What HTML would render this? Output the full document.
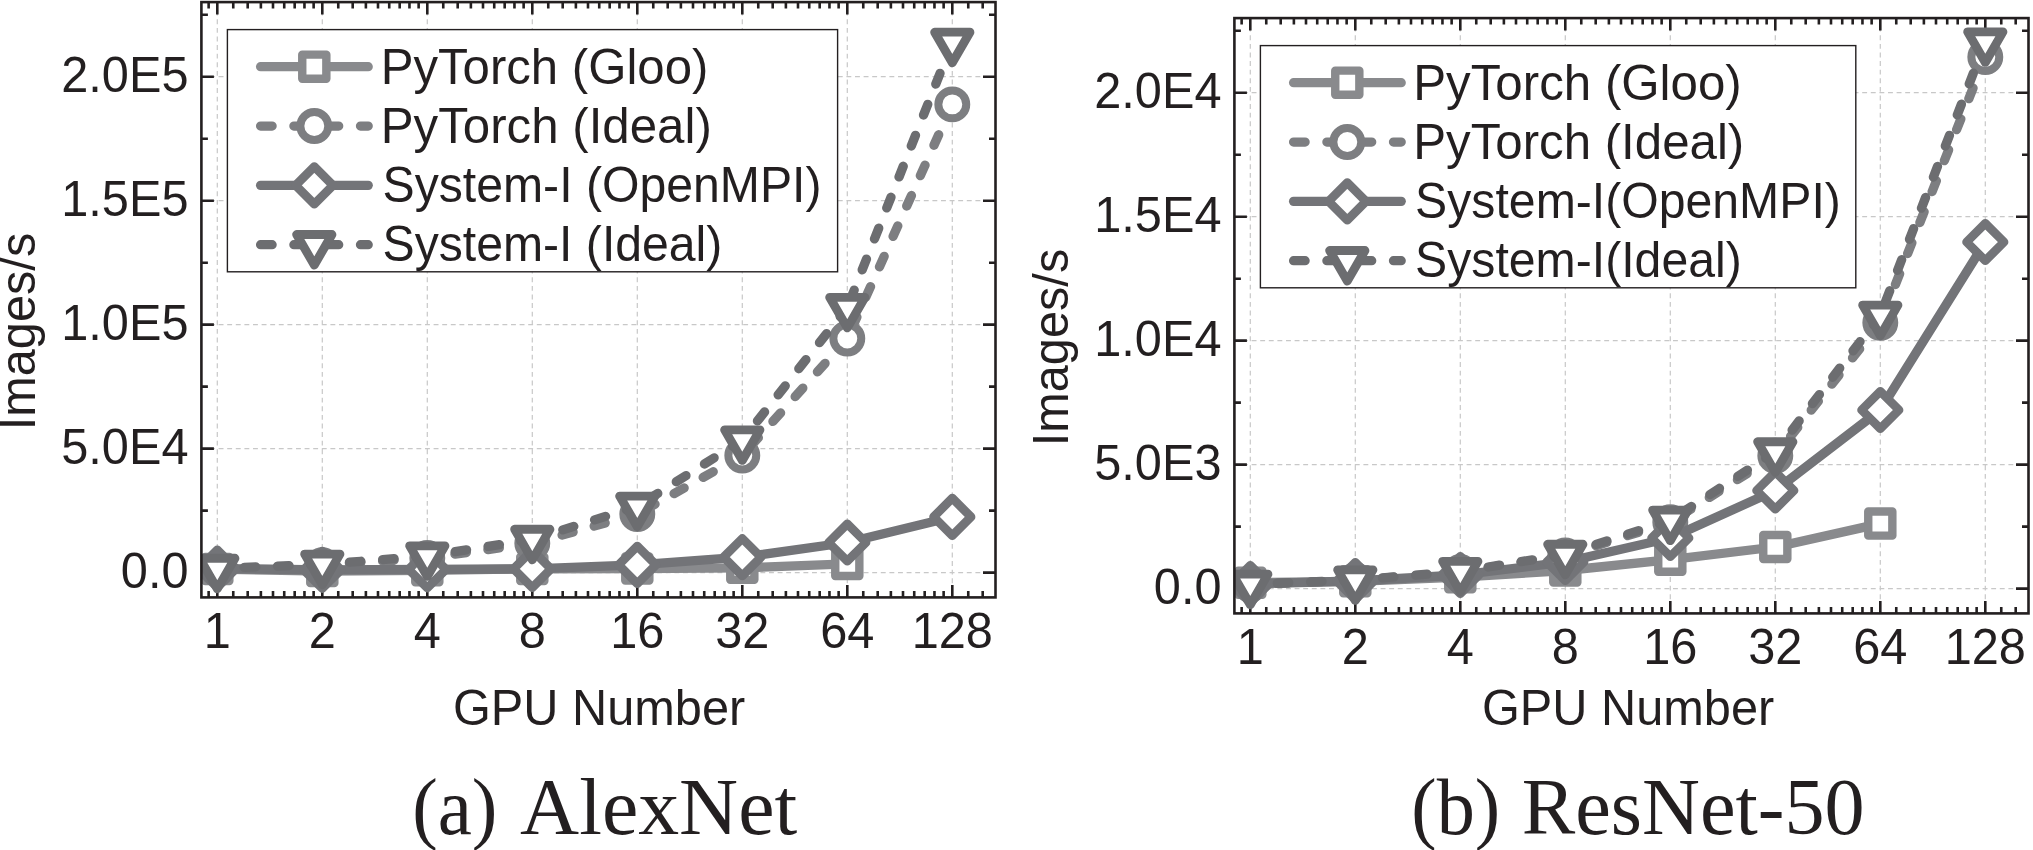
<!DOCTYPE html>
<html><head><meta charset="utf-8"><style>
html,body{margin:0;padding:0;background:#fff;width:2033px;height:850px;overflow:hidden}
svg{display:block}
.s{font-family:"Liberation Sans",sans-serif;font-size:48.7px;fill:#231f20}
.c{font-family:"Liberation Serif",serif;font-size:81px;fill:#231f20}
</style></head><body>
<svg width="2033" height="850" viewBox="0 0 2033 850">
<rect width="2033" height="850" fill="#fff"/>
<path d="M217.3 2.1V597.4M322.3 2.1V597.4M427.3 2.1V597.4M532.3 2.1V597.4M637.3 2.1V597.4M742.3 2.1V597.4M847.3 2.1V597.4M952.3 2.1V597.4M201.4 572.6H995.5M201.4 448.63H995.5M201.4 324.66H995.5M201.4 200.69H995.5M201.4 76.72H995.5" stroke="#c8c8c8" stroke-width="1.2" stroke-dasharray="4.9 3.7" fill="none"/>
<path d="M217.3 2.1v12.5M217.3 597.4v-12.5M322.3 2.1v12.5M322.3 597.4v-12.5M427.3 2.1v12.5M427.3 597.4v-12.5M532.3 2.1v12.5M532.3 597.4v-12.5M637.3 2.1v12.5M637.3 597.4v-12.5M742.3 2.1v12.5M742.3 597.4v-12.5M847.3 2.1v12.5M847.3 597.4v-12.5M952.3 2.1v12.5M952.3 597.4v-12.5M208.64 2.1v6.5M208.64 597.4v-6.5M233.26 2.1v6.5M233.26 597.4v-6.5M247.7 2.1v6.5M247.7 597.4v-6.5M260.88 2.1v6.5M260.88 597.4v-6.5M273 2.1v6.5M273 597.4v-6.5M284.23 2.1v6.5M284.23 597.4v-6.5M294.68 2.1v6.5M294.68 597.4v-6.5M304.46 2.1v6.5M304.46 597.4v-6.5M313.64 2.1v6.5M313.64 597.4v-6.5M338.26 2.1v6.5M338.26 597.4v-6.5M352.7 2.1v6.5M352.7 597.4v-6.5M365.88 2.1v6.5M365.88 597.4v-6.5M378 2.1v6.5M378 597.4v-6.5M389.23 2.1v6.5M389.23 597.4v-6.5M399.68 2.1v6.5M399.68 597.4v-6.5M409.46 2.1v6.5M409.46 597.4v-6.5M418.64 2.1v6.5M418.64 597.4v-6.5M443.26 2.1v6.5M443.26 597.4v-6.5M457.7 2.1v6.5M457.7 597.4v-6.5M470.88 2.1v6.5M470.88 597.4v-6.5M483 2.1v6.5M483 597.4v-6.5M494.23 2.1v6.5M494.23 597.4v-6.5M504.68 2.1v6.5M504.68 597.4v-6.5M514.46 2.1v6.5M514.46 597.4v-6.5M523.64 2.1v6.5M523.64 597.4v-6.5M548.26 2.1v6.5M548.26 597.4v-6.5M562.7 2.1v6.5M562.7 597.4v-6.5M575.88 2.1v6.5M575.88 597.4v-6.5M588 2.1v6.5M588 597.4v-6.5M599.23 2.1v6.5M599.23 597.4v-6.5M609.68 2.1v6.5M609.68 597.4v-6.5M619.46 2.1v6.5M619.46 597.4v-6.5M628.64 2.1v6.5M628.64 597.4v-6.5M653.26 2.1v6.5M653.26 597.4v-6.5M667.7 2.1v6.5M667.7 597.4v-6.5M680.88 2.1v6.5M680.88 597.4v-6.5M693 2.1v6.5M693 597.4v-6.5M704.23 2.1v6.5M704.23 597.4v-6.5M714.68 2.1v6.5M714.68 597.4v-6.5M724.46 2.1v6.5M724.46 597.4v-6.5M733.64 2.1v6.5M733.64 597.4v-6.5M758.26 2.1v6.5M758.26 597.4v-6.5M772.7 2.1v6.5M772.7 597.4v-6.5M785.88 2.1v6.5M785.88 597.4v-6.5M798 2.1v6.5M798 597.4v-6.5M809.23 2.1v6.5M809.23 597.4v-6.5M819.68 2.1v6.5M819.68 597.4v-6.5M829.46 2.1v6.5M829.46 597.4v-6.5M838.64 2.1v6.5M838.64 597.4v-6.5M863.26 2.1v6.5M863.26 597.4v-6.5M877.7 2.1v6.5M877.7 597.4v-6.5M890.88 2.1v6.5M890.88 597.4v-6.5M903 2.1v6.5M903 597.4v-6.5M914.23 2.1v6.5M914.23 597.4v-6.5M924.68 2.1v6.5M924.68 597.4v-6.5M934.46 2.1v6.5M934.46 597.4v-6.5M943.64 2.1v6.5M943.64 597.4v-6.5M968.26 2.1v6.5M968.26 597.4v-6.5M982.7 2.1v6.5M982.7 597.4v-6.5M201.4 572.6h12.5M995.5 572.6h-12.5M201.4 448.63h12.5M995.5 448.63h-12.5M201.4 324.66h12.5M995.5 324.66h-12.5M201.4 200.69h12.5M995.5 200.69h-12.5M201.4 76.72h12.5M995.5 76.72h-12.5M201.4 510.62h6.5M995.5 510.62h-6.5M201.4 386.65h6.5M995.5 386.65h-6.5M201.4 262.68h6.5M995.5 262.68h-6.5M201.4 138.71h6.5M995.5 138.71h-6.5M201.4 14.74h6.5M995.5 14.74h-6.5" stroke="#231f20" stroke-width="2.6" fill="none"/>
<clipPath id="ca"><rect x="201.4" y="2.1" width="794.1" height="595.3"/></clipPath>
<g clip-path="url(#ca)" stroke-linejoin="round" stroke-linecap="round">
<path d="M217.3 569 L322.3 571.1 L427.3 570.3 L532.3 568.9 L637.3 568.5 L742.3 567.8 L847.3 563.9" stroke="#898a8d" stroke-width="9.3" fill="none"/>
<rect x="205.25" y="556.95" width="24.1" height="24.1" fill="#fff" stroke="#898a8d" stroke-width="8.4"/>
<rect x="310.25" y="559.05" width="24.1" height="24.1" fill="#fff" stroke="#898a8d" stroke-width="8.4"/>
<rect x="415.25" y="558.25" width="24.1" height="24.1" fill="#fff" stroke="#898a8d" stroke-width="8.4"/>
<rect x="520.25" y="556.85" width="24.1" height="24.1" fill="#fff" stroke="#898a8d" stroke-width="8.4"/>
<rect x="625.25" y="556.45" width="24.1" height="24.1" fill="#fff" stroke="#898a8d" stroke-width="8.4"/>
<rect x="730.25" y="555.75" width="24.1" height="24.1" fill="#fff" stroke="#898a8d" stroke-width="8.4"/>
<rect x="835.25" y="551.85" width="24.1" height="24.1" fill="#fff" stroke="#898a8d" stroke-width="8.4"/>
<path d="M322.3 565.28L217.3 568.94" stroke="#7d7e81" stroke-width="9.3" fill="none" stroke-dasharray="11.5 21.8"/>
<path d="M427.3 557.97L322.3 565.28" stroke="#7d7e81" stroke-width="9.3" fill="none" stroke-dasharray="11.5 21.8"/>
<path d="M532.3 543.34L427.3 557.97" stroke="#7d7e81" stroke-width="9.3" fill="none" stroke-dasharray="11.5 21.8"/>
<path d="M637.3 514.07L532.3 543.34" stroke="#7d7e81" stroke-width="9.3" fill="none" stroke-dasharray="11.5 21.8"/>
<path d="M742.3 455.54L637.3 514.07" stroke="#7d7e81" stroke-width="9.3" fill="none" stroke-dasharray="11.5 21.8"/>
<path d="M847.3 338.49L742.3 455.54" stroke="#7d7e81" stroke-width="9.3" fill="none" stroke-dasharray="11.5 21.8"/>
<path d="M952.3 104.38L847.3 338.49" stroke="#7d7e81" stroke-width="9.3" fill="none" stroke-dasharray="11.5 21.8"/>
<circle cx="217.3" cy="568.94" r="13.95" fill="#fff" stroke="#7d7e81" stroke-width="8"/>
<circle cx="322.3" cy="565.28" r="13.95" fill="#fff" stroke="#7d7e81" stroke-width="8"/>
<circle cx="427.3" cy="557.97" r="13.95" fill="#fff" stroke="#7d7e81" stroke-width="8"/>
<circle cx="532.3" cy="543.34" r="13.95" fill="#fff" stroke="#7d7e81" stroke-width="8"/>
<circle cx="637.3" cy="514.07" r="13.95" fill="#fff" stroke="#7d7e81" stroke-width="8"/>
<circle cx="742.3" cy="455.54" r="13.95" fill="#fff" stroke="#7d7e81" stroke-width="8"/>
<circle cx="847.3" cy="338.49" r="13.95" fill="#fff" stroke="#7d7e81" stroke-width="8"/>
<circle cx="952.3" cy="104.38" r="13.95" fill="#fff" stroke="#7d7e81" stroke-width="8"/>
<path d="M217.3 568.6 L322.3 569.8 L427.3 569.3 L532.3 568.9 L637.3 564.9 L742.3 557.2 L847.3 542.5 L952.3 516.9" stroke="#737478" stroke-width="9.3" fill="none"/>
<path d="M217.3 549.9L236 568.6L217.3 587.3L198.6 568.6Z" fill="#fff" stroke="#737478" stroke-width="8.8"/>
<path d="M322.3 551.1L341 569.8L322.3 588.5L303.6 569.8Z" fill="#fff" stroke="#737478" stroke-width="8.8"/>
<path d="M427.3 550.6L446 569.3L427.3 588L408.6 569.3Z" fill="#fff" stroke="#737478" stroke-width="8.8"/>
<path d="M532.3 550.2L551 568.9L532.3 587.6L513.6 568.9Z" fill="#fff" stroke="#737478" stroke-width="8.8"/>
<path d="M637.3 546.2L656 564.9L637.3 583.6L618.6 564.9Z" fill="#fff" stroke="#737478" stroke-width="8.8"/>
<path d="M742.3 538.5L761 557.2L742.3 575.9L723.6 557.2Z" fill="#fff" stroke="#737478" stroke-width="8.8"/>
<path d="M847.3 523.8L866 542.5L847.3 561.2L828.6 542.5Z" fill="#fff" stroke="#737478" stroke-width="8.8"/>
<path d="M952.3 498.2L971 516.9L952.3 535.6L933.6 516.9Z" fill="#fff" stroke="#737478" stroke-width="8.8"/>
<path d="M322.3 564.32L217.3 568.46" stroke="#6c6d70" stroke-width="9.3" fill="none" stroke-dasharray="11.5 21.8"/>
<path d="M427.3 556.03L322.3 564.32" stroke="#6c6d70" stroke-width="9.3" fill="none" stroke-dasharray="11.5 21.8"/>
<path d="M532.3 539.46L427.3 556.03" stroke="#6c6d70" stroke-width="9.3" fill="none" stroke-dasharray="11.5 21.8"/>
<path d="M637.3 506.33L532.3 539.46" stroke="#6c6d70" stroke-width="9.3" fill="none" stroke-dasharray="11.5 21.8"/>
<path d="M742.3 440.06L637.3 506.33" stroke="#6c6d70" stroke-width="9.3" fill="none" stroke-dasharray="11.5 21.8"/>
<path d="M847.3 307.51L742.3 440.06" stroke="#6c6d70" stroke-width="9.3" fill="none" stroke-dasharray="11.5 21.8"/>
<path d="M952.3 42.42L847.3 307.51" stroke="#6c6d70" stroke-width="9.3" fill="none" stroke-dasharray="11.5 21.8"/>
<path d="M199.63 558.26L234.97 558.26L217.3 588.86Z" fill="#fff" stroke="#6c6d70" stroke-width="8.8"/>
<path d="M304.63 554.12L339.97 554.12L322.3 584.72Z" fill="#fff" stroke="#6c6d70" stroke-width="8.8"/>
<path d="M409.63 545.83L444.97 545.83L427.3 576.43Z" fill="#fff" stroke="#6c6d70" stroke-width="8.8"/>
<path d="M514.63 529.26L549.97 529.26L532.3 559.86Z" fill="#fff" stroke="#6c6d70" stroke-width="8.8"/>
<path d="M619.63 496.13L654.97 496.13L637.3 526.73Z" fill="#fff" stroke="#6c6d70" stroke-width="8.8"/>
<path d="M724.63 429.86L759.97 429.86L742.3 460.46Z" fill="#fff" stroke="#6c6d70" stroke-width="8.8"/>
<path d="M829.63 297.31L864.97 297.31L847.3 327.91Z" fill="#fff" stroke="#6c6d70" stroke-width="8.8"/>
<path d="M934.63 32.22L969.97 32.22L952.3 62.82Z" fill="#fff" stroke="#6c6d70" stroke-width="8.8"/>
</g>
<rect x="201.4" y="2.1" width="794.1" height="595.3" fill="none" stroke="#231f20" stroke-width="2.6"/>
<rect x="227.4" y="29.6" width="610.2" height="242.2" fill="#fff" stroke="#231f20" stroke-width="1.4"/>
<path d="M260.6 66.7H368.2" stroke="#898a8d" stroke-width="9.3" stroke-linecap="round" fill="none"/>
<g stroke-linejoin="round"><rect x="302.25" y="54.65" width="24.1" height="24.1" fill="#fff" stroke="#898a8d" stroke-width="8.4"/></g>
<text transform="translate(380.66,84) scale(1,1.03)" class="s" textLength="327.72" lengthAdjust="spacingAndGlyphs">PyTorch (Gloo)</text>
<path d="M260.6 126.03H368.2" stroke="#7d7e81" stroke-width="9.3" stroke-linecap="round" fill="none" stroke-dasharray="11.5 21.8"/>
<g stroke-linejoin="round"><circle cx="314.3" cy="126.03" r="13.95" fill="#fff" stroke="#7d7e81" stroke-width="8"/></g>
<text transform="translate(380.66,142.9) scale(1,1.03)" class="s" textLength="331.16" lengthAdjust="spacingAndGlyphs">PyTorch (Ideal)</text>
<path d="M260.6 185.36H368.2" stroke="#737478" stroke-width="9.3" stroke-linecap="round" fill="none"/>
<g stroke-linejoin="round"><path d="M314.3 166.66L333 185.36L314.3 204.06L295.6 185.36Z" fill="#fff" stroke="#737478" stroke-width="8.8"/></g>
<text transform="translate(382.52,201.8) scale(1,1.03)" class="s" textLength="438.93" lengthAdjust="spacingAndGlyphs">System-I (OpenMPI)</text>
<path d="M260.6 244.69H368.2" stroke="#6c6d70" stroke-width="9.3" stroke-linecap="round" fill="none" stroke-dasharray="11.5 21.8"/>
<g stroke-linejoin="round"><path d="M296.63 234.49L331.97 234.49L314.3 265.09Z" fill="#fff" stroke="#6c6d70" stroke-width="8.8"/></g>
<text transform="translate(382.52,260.7) scale(1,1.03)" class="s" textLength="339.82" lengthAdjust="spacingAndGlyphs">System-I (Ideal)</text>
<text transform="translate(188.5,587.9) scale(1,1.03)" class="s" text-anchor="end">0.0</text>
<text transform="translate(188.5,463.93) scale(1,1.03)" class="s" text-anchor="end">5.0E4</text>
<text transform="translate(188.5,339.96) scale(1,1.03)" class="s" text-anchor="end">1.0E5</text>
<text transform="translate(188.5,215.99) scale(1,1.03)" class="s" text-anchor="end">1.5E5</text>
<text transform="translate(188.5,92.02) scale(1,1.03)" class="s" text-anchor="end">2.0E5</text>
<text transform="translate(217.3,647.9) scale(1,1.03)" class="s" text-anchor="middle">1</text>
<text transform="translate(322.3,647.9) scale(1,1.03)" class="s" text-anchor="middle">2</text>
<text transform="translate(427.3,647.9) scale(1,1.03)" class="s" text-anchor="middle">4</text>
<text transform="translate(532.3,647.9) scale(1,1.03)" class="s" text-anchor="middle">8</text>
<text transform="translate(637.3,647.9) scale(1,1.03)" class="s" text-anchor="middle">16</text>
<text transform="translate(742.3,647.9) scale(1,1.03)" class="s" text-anchor="middle">32</text>
<text transform="translate(847.3,647.9) scale(1,1.03)" class="s" text-anchor="middle">64</text>
<text transform="translate(952.3,647.9) scale(1,1.03)" class="s" text-anchor="middle">128</text>
<text transform="translate(453,725.1) scale(1,1.03)" class="s">GPU Number</text>
<text transform="translate(35,430.3) rotate(-90) scale(1,1.03)" x="0" y="0" class="s">Images/s</text>
<text transform="translate(412.18,834.00)" class="c" textLength="85.23" lengthAdjust="spacingAndGlyphs">(a)</text>
<text transform="translate(520.09,834.00)" class="c" textLength="277.12" lengthAdjust="spacingAndGlyphs">AlexNet</text>
<path d="M1250.3 18.1V613.4M1355.3 18.1V613.4M1460.3 18.1V613.4M1565.3 18.1V613.4M1670.3 18.1V613.4M1775.3 18.1V613.4M1880.3 18.1V613.4M1985.3 18.1V613.4M1234.4 588.6H2028.5M1234.4 464.63H2028.5M1234.4 340.66H2028.5M1234.4 216.69H2028.5M1234.4 92.72H2028.5" stroke="#c8c8c8" stroke-width="1.2" stroke-dasharray="4.9 3.7" fill="none"/>
<path d="M1250.3 18.1v12.5M1250.3 613.4v-12.5M1355.3 18.1v12.5M1355.3 613.4v-12.5M1460.3 18.1v12.5M1460.3 613.4v-12.5M1565.3 18.1v12.5M1565.3 613.4v-12.5M1670.3 18.1v12.5M1670.3 613.4v-12.5M1775.3 18.1v12.5M1775.3 613.4v-12.5M1880.3 18.1v12.5M1880.3 613.4v-12.5M1985.3 18.1v12.5M1985.3 613.4v-12.5M1241.64 18.1v6.5M1241.64 613.4v-6.5M1266.26 18.1v6.5M1266.26 613.4v-6.5M1280.7 18.1v6.5M1280.7 613.4v-6.5M1293.88 18.1v6.5M1293.88 613.4v-6.5M1306 18.1v6.5M1306 613.4v-6.5M1317.23 18.1v6.5M1317.23 613.4v-6.5M1327.68 18.1v6.5M1327.68 613.4v-6.5M1337.46 18.1v6.5M1337.46 613.4v-6.5M1346.64 18.1v6.5M1346.64 613.4v-6.5M1371.26 18.1v6.5M1371.26 613.4v-6.5M1385.7 18.1v6.5M1385.7 613.4v-6.5M1398.88 18.1v6.5M1398.88 613.4v-6.5M1411 18.1v6.5M1411 613.4v-6.5M1422.23 18.1v6.5M1422.23 613.4v-6.5M1432.68 18.1v6.5M1432.68 613.4v-6.5M1442.46 18.1v6.5M1442.46 613.4v-6.5M1451.64 18.1v6.5M1451.64 613.4v-6.5M1476.26 18.1v6.5M1476.26 613.4v-6.5M1490.7 18.1v6.5M1490.7 613.4v-6.5M1503.88 18.1v6.5M1503.88 613.4v-6.5M1516 18.1v6.5M1516 613.4v-6.5M1527.23 18.1v6.5M1527.23 613.4v-6.5M1537.68 18.1v6.5M1537.68 613.4v-6.5M1547.46 18.1v6.5M1547.46 613.4v-6.5M1556.64 18.1v6.5M1556.64 613.4v-6.5M1581.26 18.1v6.5M1581.26 613.4v-6.5M1595.7 18.1v6.5M1595.7 613.4v-6.5M1608.88 18.1v6.5M1608.88 613.4v-6.5M1621 18.1v6.5M1621 613.4v-6.5M1632.23 18.1v6.5M1632.23 613.4v-6.5M1642.68 18.1v6.5M1642.68 613.4v-6.5M1652.46 18.1v6.5M1652.46 613.4v-6.5M1661.64 18.1v6.5M1661.64 613.4v-6.5M1686.26 18.1v6.5M1686.26 613.4v-6.5M1700.7 18.1v6.5M1700.7 613.4v-6.5M1713.88 18.1v6.5M1713.88 613.4v-6.5M1726 18.1v6.5M1726 613.4v-6.5M1737.23 18.1v6.5M1737.23 613.4v-6.5M1747.68 18.1v6.5M1747.68 613.4v-6.5M1757.46 18.1v6.5M1757.46 613.4v-6.5M1766.64 18.1v6.5M1766.64 613.4v-6.5M1791.26 18.1v6.5M1791.26 613.4v-6.5M1805.7 18.1v6.5M1805.7 613.4v-6.5M1818.88 18.1v6.5M1818.88 613.4v-6.5M1831 18.1v6.5M1831 613.4v-6.5M1842.23 18.1v6.5M1842.23 613.4v-6.5M1852.68 18.1v6.5M1852.68 613.4v-6.5M1862.46 18.1v6.5M1862.46 613.4v-6.5M1871.64 18.1v6.5M1871.64 613.4v-6.5M1896.26 18.1v6.5M1896.26 613.4v-6.5M1910.7 18.1v6.5M1910.7 613.4v-6.5M1923.88 18.1v6.5M1923.88 613.4v-6.5M1936 18.1v6.5M1936 613.4v-6.5M1947.23 18.1v6.5M1947.23 613.4v-6.5M1957.68 18.1v6.5M1957.68 613.4v-6.5M1967.46 18.1v6.5M1967.46 613.4v-6.5M1976.64 18.1v6.5M1976.64 613.4v-6.5M2001.26 18.1v6.5M2001.26 613.4v-6.5M2015.7 18.1v6.5M2015.7 613.4v-6.5M1234.4 588.6h12.5M2028.5 588.6h-12.5M1234.4 464.63h12.5M2028.5 464.63h-12.5M1234.4 340.66h12.5M2028.5 340.66h-12.5M1234.4 216.69h12.5M2028.5 216.69h-12.5M1234.4 92.72h12.5M2028.5 92.72h-12.5M1234.4 526.62h6.5M2028.5 526.62h-6.5M1234.4 402.65h6.5M2028.5 402.65h-6.5M1234.4 278.68h6.5M2028.5 278.68h-6.5M1234.4 154.71h6.5M2028.5 154.71h-6.5M1234.4 30.74h6.5M2028.5 30.74h-6.5" stroke="#231f20" stroke-width="2.6" fill="none"/>
<clipPath id="cb"><rect x="1234.4" y="18.1" width="794.1" height="595.3"/></clipPath>
<g clip-path="url(#cb)" stroke-linejoin="round" stroke-linecap="round">
<path d="M1250.3 582.8 L1355.3 581.3 L1460.3 577.2 L1565.3 570.5 L1670.3 559.7 L1775.3 547 L1880.3 523.6" stroke="#898a8d" stroke-width="9.3" fill="none"/>
<rect x="1238.25" y="570.75" width="24.1" height="24.1" fill="#fff" stroke="#898a8d" stroke-width="8.4"/>
<rect x="1343.25" y="569.25" width="24.1" height="24.1" fill="#fff" stroke="#898a8d" stroke-width="8.4"/>
<rect x="1448.25" y="565.15" width="24.1" height="24.1" fill="#fff" stroke="#898a8d" stroke-width="8.4"/>
<rect x="1553.25" y="558.45" width="24.1" height="24.1" fill="#fff" stroke="#898a8d" stroke-width="8.4"/>
<rect x="1658.25" y="547.65" width="24.1" height="24.1" fill="#fff" stroke="#898a8d" stroke-width="8.4"/>
<rect x="1763.25" y="534.95" width="24.1" height="24.1" fill="#fff" stroke="#898a8d" stroke-width="8.4"/>
<rect x="1868.25" y="511.55" width="24.1" height="24.1" fill="#fff" stroke="#898a8d" stroke-width="8.4"/>
<path d="M1355.3 580.29L1250.3 584.45" stroke="#7d7e81" stroke-width="9.3" fill="none" stroke-dasharray="11.5 21.8"/>
<path d="M1460.3 571.99L1355.3 580.29" stroke="#7d7e81" stroke-width="9.3" fill="none" stroke-dasharray="11.5 21.8"/>
<path d="M1565.3 555.38L1460.3 571.99" stroke="#7d7e81" stroke-width="9.3" fill="none" stroke-dasharray="11.5 21.8"/>
<path d="M1670.3 522.15L1565.3 555.38" stroke="#7d7e81" stroke-width="9.3" fill="none" stroke-dasharray="11.5 21.8"/>
<path d="M1775.3 455.7L1670.3 522.15" stroke="#7d7e81" stroke-width="9.3" fill="none" stroke-dasharray="11.5 21.8"/>
<path d="M1880.3 322.81L1775.3 455.7" stroke="#7d7e81" stroke-width="9.3" fill="none" stroke-dasharray="11.5 21.8"/>
<path d="M1985.3 57.02L1880.3 322.81" stroke="#7d7e81" stroke-width="9.3" fill="none" stroke-dasharray="11.5 21.8"/>
<circle cx="1250.3" cy="584.45" r="13.95" fill="#fff" stroke="#7d7e81" stroke-width="8"/>
<circle cx="1355.3" cy="580.29" r="13.95" fill="#fff" stroke="#7d7e81" stroke-width="8"/>
<circle cx="1460.3" cy="571.99" r="13.95" fill="#fff" stroke="#7d7e81" stroke-width="8"/>
<circle cx="1565.3" cy="555.38" r="13.95" fill="#fff" stroke="#7d7e81" stroke-width="8"/>
<circle cx="1670.3" cy="522.15" r="13.95" fill="#fff" stroke="#7d7e81" stroke-width="8"/>
<circle cx="1775.3" cy="455.7" r="13.95" fill="#fff" stroke="#7d7e81" stroke-width="8"/>
<circle cx="1880.3" cy="322.81" r="13.95" fill="#fff" stroke="#7d7e81" stroke-width="8"/>
<circle cx="1985.3" cy="57.02" r="13.95" fill="#fff" stroke="#7d7e81" stroke-width="8"/>
<path d="M1250.3 584 L1355.3 581 L1460.3 575 L1565.3 562 L1670.3 538 L1775.3 490.5 L1880.3 410 L1985.3 242" stroke="#737478" stroke-width="9.3" fill="none"/>
<path d="M1250.3 565.3L1269 584L1250.3 602.7L1231.6 584Z" fill="#fff" stroke="#737478" stroke-width="8.8"/>
<path d="M1355.3 562.3L1374 581L1355.3 599.7L1336.6 581Z" fill="#fff" stroke="#737478" stroke-width="8.8"/>
<path d="M1460.3 556.3L1479 575L1460.3 593.7L1441.6 575Z" fill="#fff" stroke="#737478" stroke-width="8.8"/>
<path d="M1565.3 543.3L1584 562L1565.3 580.7L1546.6 562Z" fill="#fff" stroke="#737478" stroke-width="8.8"/>
<path d="M1670.3 519.3L1689 538L1670.3 556.7L1651.6 538Z" fill="#fff" stroke="#737478" stroke-width="8.8"/>
<path d="M1775.3 471.8L1794 490.5L1775.3 509.2L1756.6 490.5Z" fill="#fff" stroke="#737478" stroke-width="8.8"/>
<path d="M1880.3 391.3L1899 410L1880.3 428.7L1861.6 410Z" fill="#fff" stroke="#737478" stroke-width="8.8"/>
<path d="M1985.3 223.3L2004 242L1985.3 260.7L1966.6 242Z" fill="#fff" stroke="#737478" stroke-width="8.8"/>
<path d="M1355.3 580.06L1250.3 584.33" stroke="#6c6d70" stroke-width="9.3" fill="none" stroke-dasharray="11.5 21.8"/>
<path d="M1460.3 571.52L1355.3 580.06" stroke="#6c6d70" stroke-width="9.3" fill="none" stroke-dasharray="11.5 21.8"/>
<path d="M1565.3 554.44L1460.3 571.52" stroke="#6c6d70" stroke-width="9.3" fill="none" stroke-dasharray="11.5 21.8"/>
<path d="M1670.3 520.28L1565.3 554.44" stroke="#6c6d70" stroke-width="9.3" fill="none" stroke-dasharray="11.5 21.8"/>
<path d="M1775.3 451.96L1670.3 520.28" stroke="#6c6d70" stroke-width="9.3" fill="none" stroke-dasharray="11.5 21.8"/>
<path d="M1880.3 315.32L1775.3 451.96" stroke="#6c6d70" stroke-width="9.3" fill="none" stroke-dasharray="11.5 21.8"/>
<path d="M1985.3 42.04L1880.3 315.32" stroke="#6c6d70" stroke-width="9.3" fill="none" stroke-dasharray="11.5 21.8"/>
<path d="M1232.63 574.13L1267.97 574.13L1250.3 604.73Z" fill="#fff" stroke="#6c6d70" stroke-width="8.8"/>
<path d="M1337.63 569.86L1372.97 569.86L1355.3 600.46Z" fill="#fff" stroke="#6c6d70" stroke-width="8.8"/>
<path d="M1442.63 561.32L1477.97 561.32L1460.3 591.92Z" fill="#fff" stroke="#6c6d70" stroke-width="8.8"/>
<path d="M1547.63 544.24L1582.97 544.24L1565.3 574.84Z" fill="#fff" stroke="#6c6d70" stroke-width="8.8"/>
<path d="M1652.63 510.08L1687.97 510.08L1670.3 540.68Z" fill="#fff" stroke="#6c6d70" stroke-width="8.8"/>
<path d="M1757.63 441.76L1792.97 441.76L1775.3 472.36Z" fill="#fff" stroke="#6c6d70" stroke-width="8.8"/>
<path d="M1862.63 305.12L1897.97 305.12L1880.3 335.72Z" fill="#fff" stroke="#6c6d70" stroke-width="8.8"/>
<path d="M1967.63 31.84L2002.97 31.84L1985.3 62.44Z" fill="#fff" stroke="#6c6d70" stroke-width="8.8"/>
</g>
<rect x="1234.4" y="18.1" width="794.1" height="595.3" fill="none" stroke="#231f20" stroke-width="2.6"/>
<rect x="1260.4" y="45.6" width="595.4" height="242.2" fill="#fff" stroke="#231f20" stroke-width="1.4"/>
<path d="M1293.6 82.7H1401.2" stroke="#898a8d" stroke-width="9.3" stroke-linecap="round" fill="none"/>
<g stroke-linejoin="round"><rect x="1335.25" y="70.65" width="24.1" height="24.1" fill="#fff" stroke="#898a8d" stroke-width="8.4"/></g>
<text transform="translate(1413.25,100) scale(1,1.03)" class="s" textLength="328.53" lengthAdjust="spacingAndGlyphs">PyTorch (Gloo)</text>
<path d="M1293.6 142.03H1401.2" stroke="#7d7e81" stroke-width="9.3" stroke-linecap="round" fill="none" stroke-dasharray="11.5 21.8"/>
<g stroke-linejoin="round"><circle cx="1347.3" cy="142.03" r="13.95" fill="#fff" stroke="#7d7e81" stroke-width="8"/></g>
<text transform="translate(1413.26,158.9) scale(1,1.03)" class="s" textLength="330.96" lengthAdjust="spacingAndGlyphs">PyTorch (Ideal)</text>
<path d="M1293.6 201.36H1401.2" stroke="#737478" stroke-width="9.3" stroke-linecap="round" fill="none"/>
<g stroke-linejoin="round"><path d="M1347.3 182.66L1366 201.36L1347.3 220.06L1328.6 201.36Z" fill="#fff" stroke="#737478" stroke-width="8.8"/></g>
<text transform="translate(1415.12,217.8) scale(1,1.03)" class="s" textLength="425.7" lengthAdjust="spacingAndGlyphs">System-I(OpenMPI)</text>
<path d="M1293.6 260.69H1401.2" stroke="#6c6d70" stroke-width="9.3" stroke-linecap="round" fill="none" stroke-dasharray="11.5 21.8"/>
<g stroke-linejoin="round"><path d="M1329.63 250.49L1364.97 250.49L1347.3 281.09Z" fill="#fff" stroke="#6c6d70" stroke-width="8.8"/></g>
<text transform="translate(1415.12,276.7) scale(1,1.03)" class="s" textLength="326.59" lengthAdjust="spacingAndGlyphs">System-I(Ideal)</text>
<text transform="translate(1221.5,603.9) scale(1,1.03)" class="s" text-anchor="end">0.0</text>
<text transform="translate(1221.5,479.93) scale(1,1.03)" class="s" text-anchor="end">5.0E3</text>
<text transform="translate(1221.5,355.96) scale(1,1.03)" class="s" text-anchor="end">1.0E4</text>
<text transform="translate(1221.5,231.99) scale(1,1.03)" class="s" text-anchor="end">1.5E4</text>
<text transform="translate(1221.5,108.02) scale(1,1.03)" class="s" text-anchor="end">2.0E4</text>
<text transform="translate(1250.3,663.9) scale(1,1.03)" class="s" text-anchor="middle">1</text>
<text transform="translate(1355.3,663.9) scale(1,1.03)" class="s" text-anchor="middle">2</text>
<text transform="translate(1460.3,663.9) scale(1,1.03)" class="s" text-anchor="middle">4</text>
<text transform="translate(1565.3,663.9) scale(1,1.03)" class="s" text-anchor="middle">8</text>
<text transform="translate(1670.3,663.9) scale(1,1.03)" class="s" text-anchor="middle">16</text>
<text transform="translate(1775.3,663.9) scale(1,1.03)" class="s" text-anchor="middle">32</text>
<text transform="translate(1880.3,663.9) scale(1,1.03)" class="s" text-anchor="middle">64</text>
<text transform="translate(1985.3,663.9) scale(1,1.03)" class="s" text-anchor="middle">128</text>
<text transform="translate(1482,725.1) scale(1,1.03)" class="s">GPU Number</text>
<text transform="translate(1068,446.3) rotate(-90) scale(1,1.03)" x="0" y="0" class="s">Images/s</text>
<text transform="translate(1411.31,834.00)" class="c" textLength="88.83" lengthAdjust="spacingAndGlyphs">(b)</text>
<text transform="translate(1521.72,834.00)" class="c" textLength="342.97" lengthAdjust="spacingAndGlyphs">ResNet-50</text>
</svg></body></html>
